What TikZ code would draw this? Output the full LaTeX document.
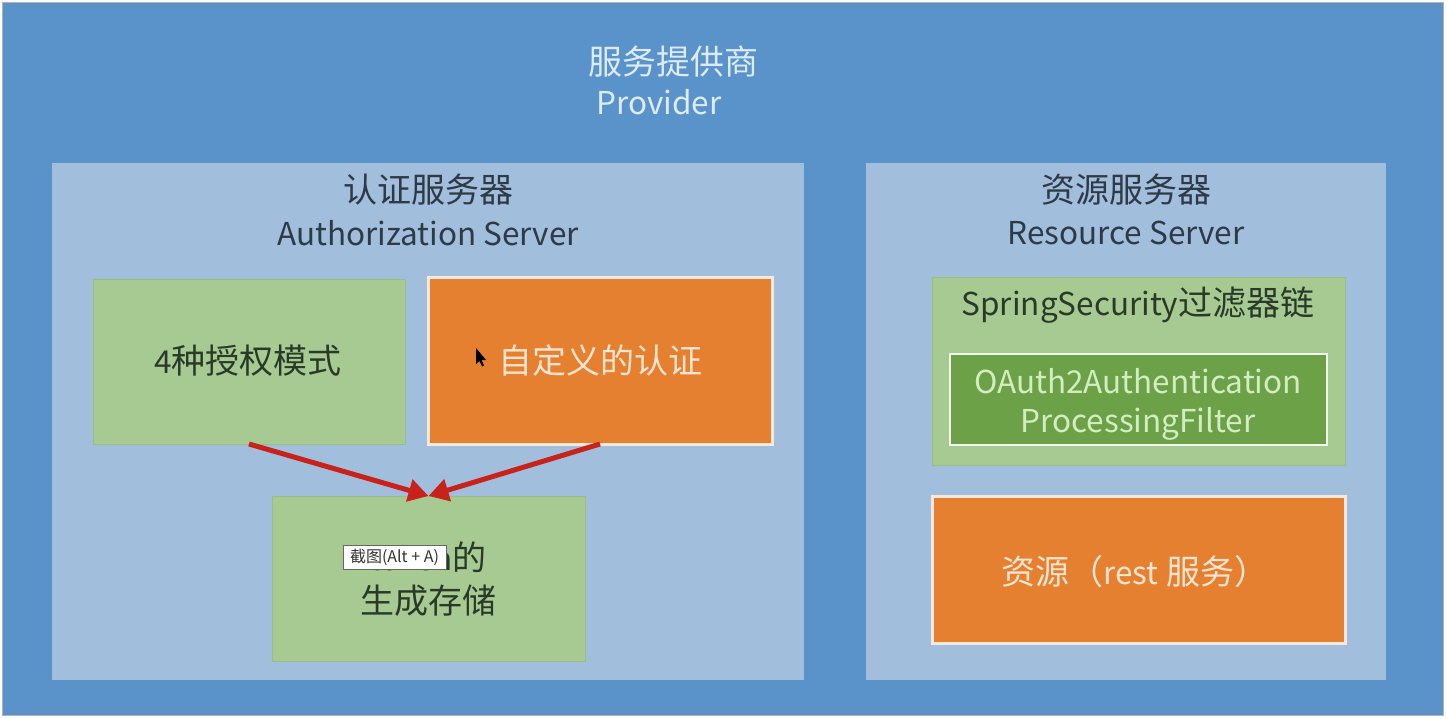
\documentclass[tikz,border=0pt]{standalone}
\usepackage{fontspec}
\setmainfont{Noto Sans CJK SC}
\usetikzlibrary{arrows.meta}
\definecolor{outerblue}{HTML}{5A92CA}
\definecolor{panelblue}{HTML}{A2BEDD}
\definecolor{lgreen}{HTML}{A7CA92}
\definecolor{lgreenedge}{HTML}{98BE84}
\definecolor{dgreen}{HTML}{6CA147}
\definecolor{orng}{HTML}{E68031}
\definecolor{orngedge}{HTML}{F6E8DC}
\definecolor{titletxt}{HTML}{DDEBF7}
\definecolor{darktxt}{HTML}{2E3A46}
\definecolor{greentxt}{HTML}{2A3A28}
\definecolor{orngtxt}{HTML}{FBE4CF}
\definecolor{filtertxt}{HTML}{D3EDC3}
\definecolor{arrowred}{HTML}{C8221B}
\newcommand\lat[1]{{\fontsize{31.5}{43}\selectfont #1}}
\begin{document}
\begin{tikzpicture}[x=1pt,y=-1pt,
  rect/.style={anchor=north west, inner sep=0pt, outer sep=0pt},
  lbl/.style={inner sep=0pt, align=center, font=\fontsize{34}{43}\selectfont},
  gbox/.style={rect, fill=lgreen, draw=lgreenedge, line width=1pt},
  obox/.style={rect, fill=orng, draw=orngedge, line width=3pt},
  redarrow/.style={draw=arrowred, line width=5pt, -{Triangle[length=20pt,width=22pt]}}]
\useasboundingbox (0,0) rectangle (1447,718);
\fill[white] (0,0) rectangle (1447,718);
% outer
\node[rect, fill=outerblue, draw=gray!60, line width=1pt, minimum width=1441pt, minimum height=713pt] (outer) at (2,2) {};
\node[lbl, text=titletxt] (title) at (673,62) {服务提供商};
\node[lbl, text=titletxt] (prov) at (659,102) {\lat{Provider}};
% panels
\node[rect, fill=panelblue, minimum width=752pt, minimum height=517pt] (lp) at (52,163) {};
\node[rect, fill=panelblue, minimum width=520pt, minimum height=517pt] (rp) at (866,163) {};
\node[lbl, text=darktxt] (lt1) at (428,190) {认证服务器};
\node[lbl, text=darktxt] (lt2) at (428,233) {\lat{Authorization Server}};
\node[lbl, text=darktxt] (rt1) at (1126,190) {资源服务器};
\node[lbl, text=darktxt] (rt2) at (1126,233) {\lat{Resource Server}};
% left boxes
\node[gbox, minimum width=312pt, minimum height=165pt] (b1) at (93,279) {};
\node[lbl, text=greentxt] (b1t) at (248,361) {\lat{4}种授权模式};
\node[obox, minimum width=344pt, minimum height=167pt] (b2) at (428,277) {};
\node[lbl, text=orngtxt] (b2t) at (600,361) {自定义的认证};
\node[gbox, minimum width=313pt, minimum height=165pt] (b3) at (272,496) {};
\node[lbl, text=greentxt] (b3a) at (428,557) {\lat{token}的};
\node[lbl, text=greentxt] (b3b) at (428,601) {生成存储};
% arrows
\draw[redarrow] (b1.south) -- (b3.north);
\draw[redarrow] (b2.south) -- (b3.north);
% tooltip
\node[rect, fill=white, draw=gray!80!black, line width=0.8pt, minimum width=103pt, minimum height=24pt] (tip) at (343,545) {};
\node[inner sep=0pt, text=black!80, font=\fontsize{16}{18}\selectfont] (tipt) at (tip.center) {截图(Alt + A)};
% mouse cursor
\fill[black] (476,348) -- (476,364) -- (479.5,361) -- (482,366.5) -- (484,365.5) -- (481.5,360) -- (486,360) -- cycle;
% right boxes
\node[gbox, minimum width=413pt, minimum height=188pt] (ss) at (932,277) {};
\node[lbl, text=greentxt] (sst) at (1138,305) {\lat{SpringSecurity}过滤器链};
\node[rect, fill=dgreen, draw=white!85!lgreen, line width=2.5pt, minimum width=377pt, minimum height=91pt] (flt) at (950,354) {};
\node[lbl, text=filtertxt] (flt1) at (1138,381) {\lat{OAuth2Authentication}};
\node[lbl, text=filtertxt] (flt2) at (1138,424) {\lat{ProcessingFilter}};
\node[obox, minimum width=413pt, minimum height=147pt] (res) at (932,496) {};
\node[lbl, text=orngtxt] (rest) at (1135,572) {资源（\lat{rest} 服务）};
\end{tikzpicture}
\end{document}
